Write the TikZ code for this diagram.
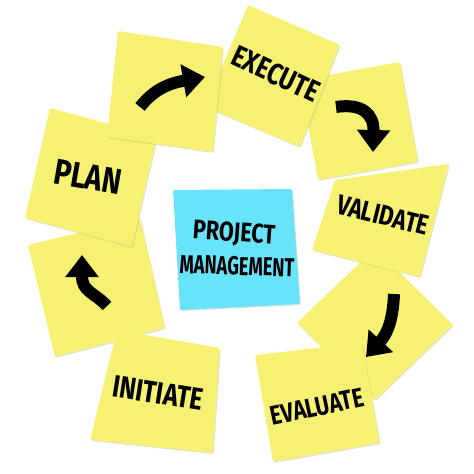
\documentclass[tikz,border=0pt]{standalone}
\usepackage{fontspec}
\setmainfont{Fira Sans}
\usetikzlibrary{arrows.meta,shadows}
\definecolor{notey}{RGB}{246,241,115}
\definecolor{noteb}{RGB}{104,228,250}
\begin{document}
\begin{tikzpicture}[x=1pt,y=-1pt,
  note/.style={fill=notey, rounded corners=1.5pt,
    drop shadow={shadow xshift=.8pt,shadow yshift=-1pt,opacity=.25}},
  bluenote/.style={note, fill=noteb},
  word/.style={font=\bfseries\fontsize{#1}{#1}\selectfont, inner sep=0pt, xscale=.8},
  marker/.style={line width=12pt, -{Triangle[length=22pt,width=32pt]}}]
\useasboundingbox (0,0) rectangle (474,474);

% notes, from the bottom up
\path[note] (297,323) -- (375,248) -- (453,325) -- (375,400) -- cycle;
\path[note] (335,180) -- (449,164) -- (420,277) -- (312,250) -- cycle;
\path[note] (300,80) -- (400,62) -- (418,162) -- (318,180) -- cycle;
\path[note] (248,5) -- (340,45) -- (300,147) -- (205,107) -- cycle;
\path[note] (28,245) -- (140,218) -- (165,328) -- (55,357) -- cycle;
\path[note] (50,108) -- (157,137) -- (132,247) -- (25,218) -- cycle;
\path[note] (118,31) -- (223,47) -- (213,152) -- (107,137) -- cycle;
\path[note] (117,330) -- (220,348) -- (213,453) -- (90,440) -- cycle;
\path[note] (255,355) -- (362,343) -- (380,443) -- (273,462) -- cycle;
\path[bluenote] (173,190) -- (292,189) -- (300,304) -- (180,310) -- cycle;

% words
\node[rotate=-10, word=36] (plan) at (88,177) {PLAN};
\node[rotate=-25, word=30] (execute) at (276,74) {EXECUTE};
\node[rotate=-14, word=28] (validate) at (383,215) {VALIDATE};
\node[rotate=12, word=27] (evaluate) at (317,407) {EVALUATE};
\node[rotate=-9, word=31] (initiate) at (158,393) {INITIATE};
\node[rotate=-4, word=27] (proj) at (234,234) {PROJECT};
\node[rotate=-2, word=26, xscale=.875] (mgmt) at (237,266) {MANAGEMENT};

% marker arrows
\draw[marker] (140,107) .. controls (152,92) and (165,84) .. (205,77);
\draw[marker] (336,107) .. controls (362,103) and (374,114) .. (373,152);
\draw[marker] (394,294) .. controls (393,316) and (389,332) .. (366,357);
\draw[marker] (107,306) .. controls (94,292) and (82,292) .. (82,255);
\end{tikzpicture}
\end{document}
